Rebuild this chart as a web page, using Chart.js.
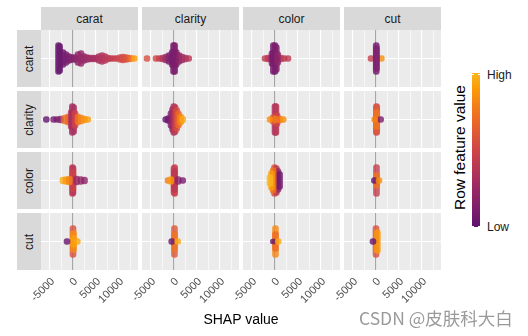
<!DOCTYPE html>
<html lang="en">
<head>
<meta charset="UTF-8">
<title>SHAP interaction summary</title>
<script src="https://cdn.jsdelivr.net/npm/chart.js@4.4.1/dist/chart.umd.min.js"></script>
<style>
  body { margin: 0; background: #fff; font-family: "Liberation Sans", Arial, sans-serif; }
  #wrap { position: relative; width: 528px; height: 336px; overflow: hidden; }
  #wrap canvas, .strip, .txt, #bar, .tick { position: absolute; }
  .strip { background: #d9d9d9; color: #1a1a1a; font-size: 12px; display: flex; align-items: center; justify-content: center; }
  .strip span { white-space: nowrap; }
  .strip.row span { transform: rotate(-90deg); }
  .txt { white-space: nowrap; color: #1a1a1a; }
  .tick { background: #fff; height: 1px; width: 2px; }
</style>
</head>
<body>
<div id="wrap"></div>
<script>
// features (facet order)
const features = ['carat', 'clarity', 'color', 'cut'];

// x axis ticks
const majorTicks = [-5000, 0, 5000, 10000];
const minorTicks = [-2500, 2500, 7500, 12500];
const X_MIN = -6957, X_MAX = 14130;

// each panel: [SHAP value, half spread of the swarm, row feature value 0..1]
// row = carat
const caratCarat = [[-3150,1.6,0.02],[-2900,1.5,0.03],[-2174,0.9,0.06],[-1522,0.7,0.08],[-870,0.5,0.1],[-217,0.4,0.13],[435,0.4,0.16],[1087,0.7,0.19],[1739,0.8,0.21],[2391,0.5,0.23],[3043,0.4,0.25],[3696,0.35,0.27],[4348,0.35,0.29],[5000,0.35,0.31],[5652,0.5,0.33],[6304,0.6,0.35],[6957,0.5,0.37],[7609,0.35,0.4],[8261,0.3,0.42],[8913,0.3,0.44],[9565,0.3,0.47],[10217,0.4,0.5],[10870,0.45,0.52],[11522,0.4,0.55],[12174,0.35,0.62],[12754,0.3,0.75],[13333,0.3,0.92]];
const caratClarity = [[-5870,0.3,0.55],[-3913,0.3,0.5],[-3188,0.3,0.45],[-2500,0.35,0.35],[-1800,0.45,0.25],[-1100,0.6,0.12],[-400,0.9,0.08],[-100,1.6,0.08],[150,1.6,0.12],[500,0.9,0.12],[1100,0.6,0.18],[1800,0.45,0.25],[2500,0.35,0.32],[3200,0.3,0.38]];
const caratColor = [[-2174,0.3,0.42],[-1500,0.35,0.4],[-800,0.4,0.35],[1300,0.35,0.4],[2000,0.3,0.42],[2826,0.3,0.42],[-650,0.8,0.15],[-360,1.6,0.08],[0,1.6,0.1],[290,1.4,0.12],[600,0.7,0.2]];
const caratCut = [[-1087,0.3,0.45],[1159,0.3,0.85],[50,1.6,0.06],[100,1.3,0.12]];
// row = clarity
const clarityCarat = [[-5800,0.3,0.02],[-4203,0.3,0.08],[-3478,0.3,0.1],[-2700,0.35,0.15],[-1800,0.45,0.72],[-1100,0.55,0.7],[-400,1.0,0.35],[-145,1.6,0.28],[145,1.5,0.33],[450,0.9,0.5],[1100,0.55,0.75],[1800,0.45,0.8],[2500,0.35,0.85],[3188,0.3,0.9]];
const clarityClarity = [[-1800,0.3,0.0],[-1250,0.4,0.05],[-650,0.9,0.12],[-300,1.3,0.2],[-50,1.6,0.3],[250,1.5,0.42],[600,1.2,0.55],[1000,0.85,0.7],[1450,0.55,0.83],[1900,0.35,0.95]];
const clarityColor = [[0,1.6,0.33],[200,1.6,0.38],[450,0.7,0.5],[-400,0.5,0.6],[-1087,0.3,0.85],[100,0.35,0.78],[1100,0.35,0.75],[1800,0.3,0.85]];
const clarityCut = [[100,1.6,0.45],[150,1.5,0.6],[150,1.0,0.75],[1014,0.3,0.12],[-290,0.3,0.8]];
// row = color
const colorCarat = [[-100,1.6,0.42],[0,1.5,0.38],[-50,1.1,0.5],[-2174,0.35,0.95],[-1500,0.4,0.9],[-800,0.45,0.8],[800,0.45,0.25],[1700,0.4,0.22],[2500,0.35,0.2]];
const colorClarity = [[0,1.5,0.5],[150,1.6,0.45],[70,1.2,0.4],[-1300,0.3,0.75],[-700,0.4,0.9],[900,0.4,0.2],[1900,0.3,0.1]];
const colorColor = [[-100,1.6,0.55],[300,1.5,0.4],[650,1.2,0.2],[1000,0.9,0.05],[-400,1.3,0.75],[-750,1.0,0.9],[-1087,0.6,1.0]];
const colorCut = [[100,1.6,0.45],[150,0.8,0.75],[-362,0.3,0.03],[652,0.3,0.85]];
// row = cut
const cutCarat = [[0,1.6,0.55],[100,1.1,0.85],[150,0.6,0.92],[-1304,0.3,0.02],[942,0.3,0.95]];
const cutClarity = [[100,1.6,0.6],[100,1.0,0.75],[-500,0.3,0.05],[800,0.3,0.95]];
const cutColor = [[100,1.6,0.82],[100,1.0,0.7],[-362,0.25,0.03],[700,0.3,0.95]];
const cutCut = [[0,1.6,0.55],[300,1.2,0.9],[-652,0.3,0.02]];

const panels = [
  [caratCarat, caratClarity, caratColor, caratCut],
  [clarityCarat, clarityClarity, clarityColor, clarityCut],
  [colorCarat, colorClarity, colorColor, colorCut],
  [cutCarat, cutClarity, cutColor, cutCut]
];

// layout
const COL_X = [41, 142, 243, 344];
const ROW_Y = [30, 91, 152, 213];
const PANEL_W = 97, PANEL_H = 57;

// inferno-like colour ramp for the feature value
const COLOUR_STOPS = [
  [0, [95, 19, 110]], [0.1, [120, 28, 109]], [0.3, [165, 44, 96]], [0.5, [207, 68, 70]],
  [0.7, [237, 105, 37]], [0.9, [251, 155, 6]], [1, [249, 182, 34]]
];
function featureColour(v, alpha) {
  for (let i = 1; i < COLOUR_STOPS.length; i++) {
    const [p1, c1] = COLOUR_STOPS[i];
    const [p0, c0] = COLOUR_STOPS[i - 1];
    if (v <= p1) {
      const t = (v - p0) / (p1 - p0);
      const c = c0.map((a, k) => Math.round(a + (c1[k] - a) * t));
      return `rgba(${c[0]},${c[1]},${c[2]},${alpha})`;
    }
  }
  return 'rgb(249,182,34)';
}

const wrap = document.getElementById('wrap');

const panelBg = {
  id: 'panelBg',
  beforeDraw(chart) {
    const a = chart.chartArea, ctx = chart.ctx;
    ctx.save();
    ctx.fillStyle = '#ebebeb';
    ctx.fillRect(a.left, a.top, a.right - a.left, a.bottom - a.top);
    ctx.restore();
  }
};

function makePanel(r, c, rows) {
  const bottom = r === 3;
  const padL = bottom ? 24 : 0, padR = bottom ? 12 : 0, axisH = bottom ? 40 : 0;
  const cv = document.createElement('canvas');
  cv.width = PANEL_W + padL + padR;
  cv.height = PANEL_H + axisH;
  cv.style.left = (COL_X[c] - padL) + 'px';
  cv.style.top = ROW_Y[r] + 'px';
  cv.style.width = cv.width + 'px';
  cv.style.height = cv.height + 'px';
  wrap.appendChild(cv);

  new Chart(cv, {
    type: 'bar',
    data: {
      datasets: [{
        data: rows.map(d => ({ x: d[0], y: [-d[1], d[1]] })),
        backgroundColor: rows.map(d => featureColour(d[2], 0.8)),
        barThickness: 6,
        borderRadius: 3,
        borderSkipped: false
      }]
    },
    options: {
      responsive: false,
      animation: false,
      devicePixelRatio: 1,
      layout: { padding: { left: padL, right: padR, top: 0, bottom: 0 } },
      plugins: { legend: { display: false }, tooltip: { enabled: false } },
      scales: {
        x: {
          type: 'linear',
          min: X_MIN,
          max: X_MAX,
          offset: false,
          afterBuildTicks: s => { s.ticks = majorTicks.concat(minorTicks).sort((a, b) => a - b).map(v => ({ value: v })); },
          afterFit: s => { s.height = axisH; },
          border: { display: false },
          grid: {
            offset: false,
            drawTicks: false,
            color: ctx => (ctx.tick && ctx.tick.value === 0) ? '#a6a6a6' : '#ffffff',
            lineWidth: ctx => (ctx.tick && majorTicks.includes(ctx.tick.value)) ? 1.1 : 0.6
          },
          ticks: {
            display: bottom,
            autoSkip: false,
            minRotation: 45,
            maxRotation: 45,
            padding: 5,
            labelOffset: 3,
            color: '#4d4d4d',
            font: { family: '"Liberation Sans", Arial, sans-serif', size: 11 },
            callback: v => majorTicks.includes(v) ? String(v) : ''
          }
        },
        y: {
          min: -2.85,
          max: 2.85,
          afterBuildTicks: s => { s.ticks = [{ value: 0 }]; },
          afterFit: s => { s.width = 0; },
          border: { display: false },
          grid: { drawTicks: false, color: '#ffffff', lineWidth: 1.1 },
          ticks: { display: false }
        }
      }
    },
    plugins: [panelBg]
  });
}

function addDiv(cls, css, text) {
  const d = document.createElement('div');
  d.className = cls;
  Object.assign(d.style, css);
  if (text !== undefined) {
    const s = document.createElement('span');
    s.textContent = text;
    d.appendChild(s);
  }
  wrap.appendChild(d);
  return d;
}

// strips
features.forEach((f, i) => {
  addDiv('strip', { left: COL_X[i] + 'px', top: '7px', width: PANEL_W + 'px', height: '23px' }, f);
  addDiv('strip row', { left: '17px', top: ROW_Y[i] + 'px', width: '24px', height: PANEL_H + 'px' }, f);
});

// panels
for (let r = 0; r < 4; r++) {
  for (let c = 0; c < 4; c++) makePanel(r, c, panels[r][c]);
}

// axis title
addDiv('txt', { left: '191px', width: '100px', top: '311px', fontSize: '14px', textAlign: 'center', color: '#000' }, 'SHAP value');

// colour bar legend
const bar = addDiv('', { left: '472px', top: '73px', width: '8px', height: '154px' });
bar.id = 'bar';
bar.style.background = 'linear-gradient(to top, ' +
  COLOUR_STOPS.map(s => `rgb(${s[1].join(',')}) ${s[0] * 100}%`).join(', ') + ')';
[74, 226].forEach(y => {
  addDiv('tick', { left: '472px', top: y + 'px' });
  addDiv('tick', { left: '478px', top: y + 'px' });
});
addDiv('txt', { left: '487px', top: '68px', fontSize: '12px' }, 'High');
addDiv('txt', { left: '487px', top: '220px', fontSize: '12px' }, 'Low');
addDiv('txt', { left: '400px', top: '141px', width: '120px', height: '18px', fontSize: '15.5px', textAlign: 'center', color: '#000', transform: 'rotate(-90deg)' }, 'Row feature value');

// watermark
addDiv('txt', { left: '359px', top: '305px', fontSize: '17.5px', color: '#9a9a9a', fontFamily: '"Noto Sans CJK SC", sans-serif' }, 'CSDN @皮肤科大白');
</script>
</body>
</html>
